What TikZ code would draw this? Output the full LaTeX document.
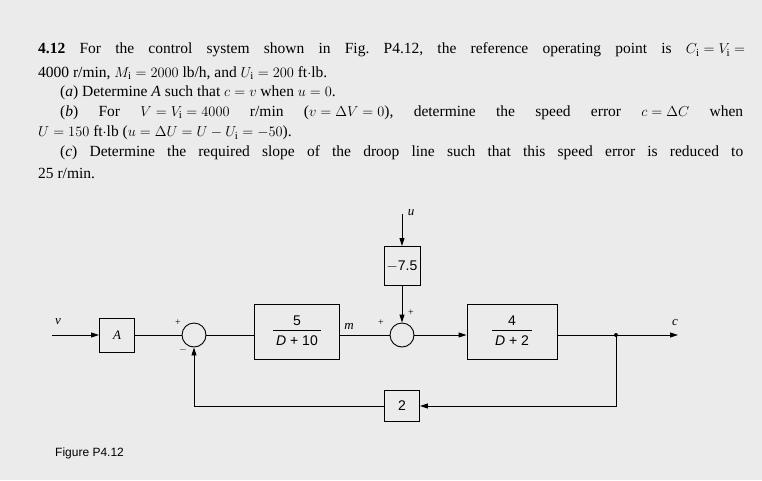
\documentclass[tikz,border=0pt]{standalone}
\usepackage{fontspec}
\setmainfont{Liberation Serif}
\setsansfont{Liberation Sans}
\usetikzlibrary{arrows.meta}
\frenchspacing
\newcommand{\mm}[1]{\mbox{$#1$}}
\newcommand{\fracbox}[2]{\setlength{\tabcolsep}{3pt}\renewcommand{\arraystretch}{1.15}\begin{tabular}{c}#1\\[-1pt]\hline\rule{0pt}{15pt}#2\end{tabular}}
\tikzset{
 blk/.style={draw,line width=0.9pt,font=\sffamily\fontsize{14}{16}\selectfont,inner sep=0pt,align=center},
 sumc/.style={draw,circle,line width=0.9pt,minimum size=24pt,inner sep=0pt},
 ln/.style={line width=0.9pt},
 arr/.style={line width=0.9pt,-{Triangle[length=8pt,width=5pt]}},
 txt/.style={anchor=west,inner sep=0pt,font=\fontsize{15.5}{18}\selectfont},
 lbl/.style={font=\itshape\fontsize{13}{15}\selectfont,inner sep=1pt},
 sg/.style={font=\fontsize{10}{12}\selectfont,inner sep=0pt}
}
\begin{document}
\begin{tikzpicture}[x=1pt,y=-1pt]
\fill[black!8] (0,0) rectangle (762,480);
\useasboundingbox (0,0) rectangle (762,480);
\node[txt] (t1) at (38,50) {\makebox[707pt][s]{\textbf{4.12} For the control system shown in Fig. P4.12, the reference operating point is \mm{C_{\mathrm i}=V_{\mathrm i}=}}};
\node[txt] (t2) at (38,73) {4000 r/min, \mm{M_{\mathrm i}=2000} lb/h, and \mm{U_{\mathrm i}=200} ft$\cdot$lb.};
\node[txt] (t3) at (60,93) {(\textit{a}) Determine \textit{A} such that \mm{c=v} when \mm{u=0}.};
\node[txt] (t4) at (60,113) {\makebox[683pt][s]{(\textit{b}) For \mm{V=V_{\mathrm i}=4000} r/min (\mm{v=\Delta V=0}), determine the speed error \mm{c=\Delta C} when}};
\node[txt] (t5) at (38,133) {\mm{U=150} ft$\cdot$lb (\mm{u=\Delta U=U-U_{\mathrm i}=-50}).};
\node[txt] (t6) at (60,153) {\makebox[683pt][s]{(\textit{c}) Determine the required slope of the droop line such that this speed error is reduced to}};
\node[txt] (t7) at (38,173) {25 r/min.};
\node[txt,font=\sffamily\fontsize{12}{14}\selectfont] (fig) at (55,453) {Figure P4.12};

\node[blk,minimum width=35pt,minimum height=34pt,font=\itshape\fontsize{13}{15}\selectfont] (A) at (117,335) {A};
\node[sumc] (s1) at (194,335) {};
\node[blk,minimum width=85pt,minimum height=55pt] (g1) at (297,332) {\fracbox{5}{\textit{D} + 10}};
\node[sumc] (s2) at (402,335) {};
\node[blk,minimum width=90pt,minimum height=55pt] (g2) at (512,332) {\fracbox{4}{\textit{D} + 2}};
\node[blk,minimum width=35pt,minimum height=31pt] (h) at (402,406) {2};
\node[blk,minimum width=36pt,minimum height=39pt] (k) at (402,266) {$-$7.5};
\coordinate (vin) at (52,335);
\coordinate (uin) at (402,214);
\coordinate (br) at (616,335);
\coordinate (cout) at (678,335);
\fill (br) circle (2pt);
\draw[arr] (vin) -- (A.west);
\draw[ln] (A.east) -- (s1.west);
\draw[ln] (s1.east) -- (g1.west|-s1);
\draw[ln] (g1.east|-s2) -- (s2.west);
\draw[arr] (s2.east) -- (g2.west|-s2);
\draw[ln] (g2.east|-br) -- (br);
\draw[arr] (br) -- (cout);
\draw[arr] (br) |- (h.east);
\draw[arr] (h.west) -| (s1.south);
\draw[arr] (uin) -- (k.north);
\draw[arr] (k.south) -- (s2.north);
\node[lbl] (lv) at (58,322) {v};
\node[lbl] (lu) at (411,213) {u};
\node[lbl] (lc) at (675,322) {c};
\node[lbl] (lm) at (349,326) {m};
\node[sg] (p1) at (178,323) {+};
\node[sg] (m1) at (183,350) {$-$};
\node[sg] (p2) at (381,323) {+};
\node[sg] (p3) at (411,313) {+};
\end{tikzpicture}
\end{document}
